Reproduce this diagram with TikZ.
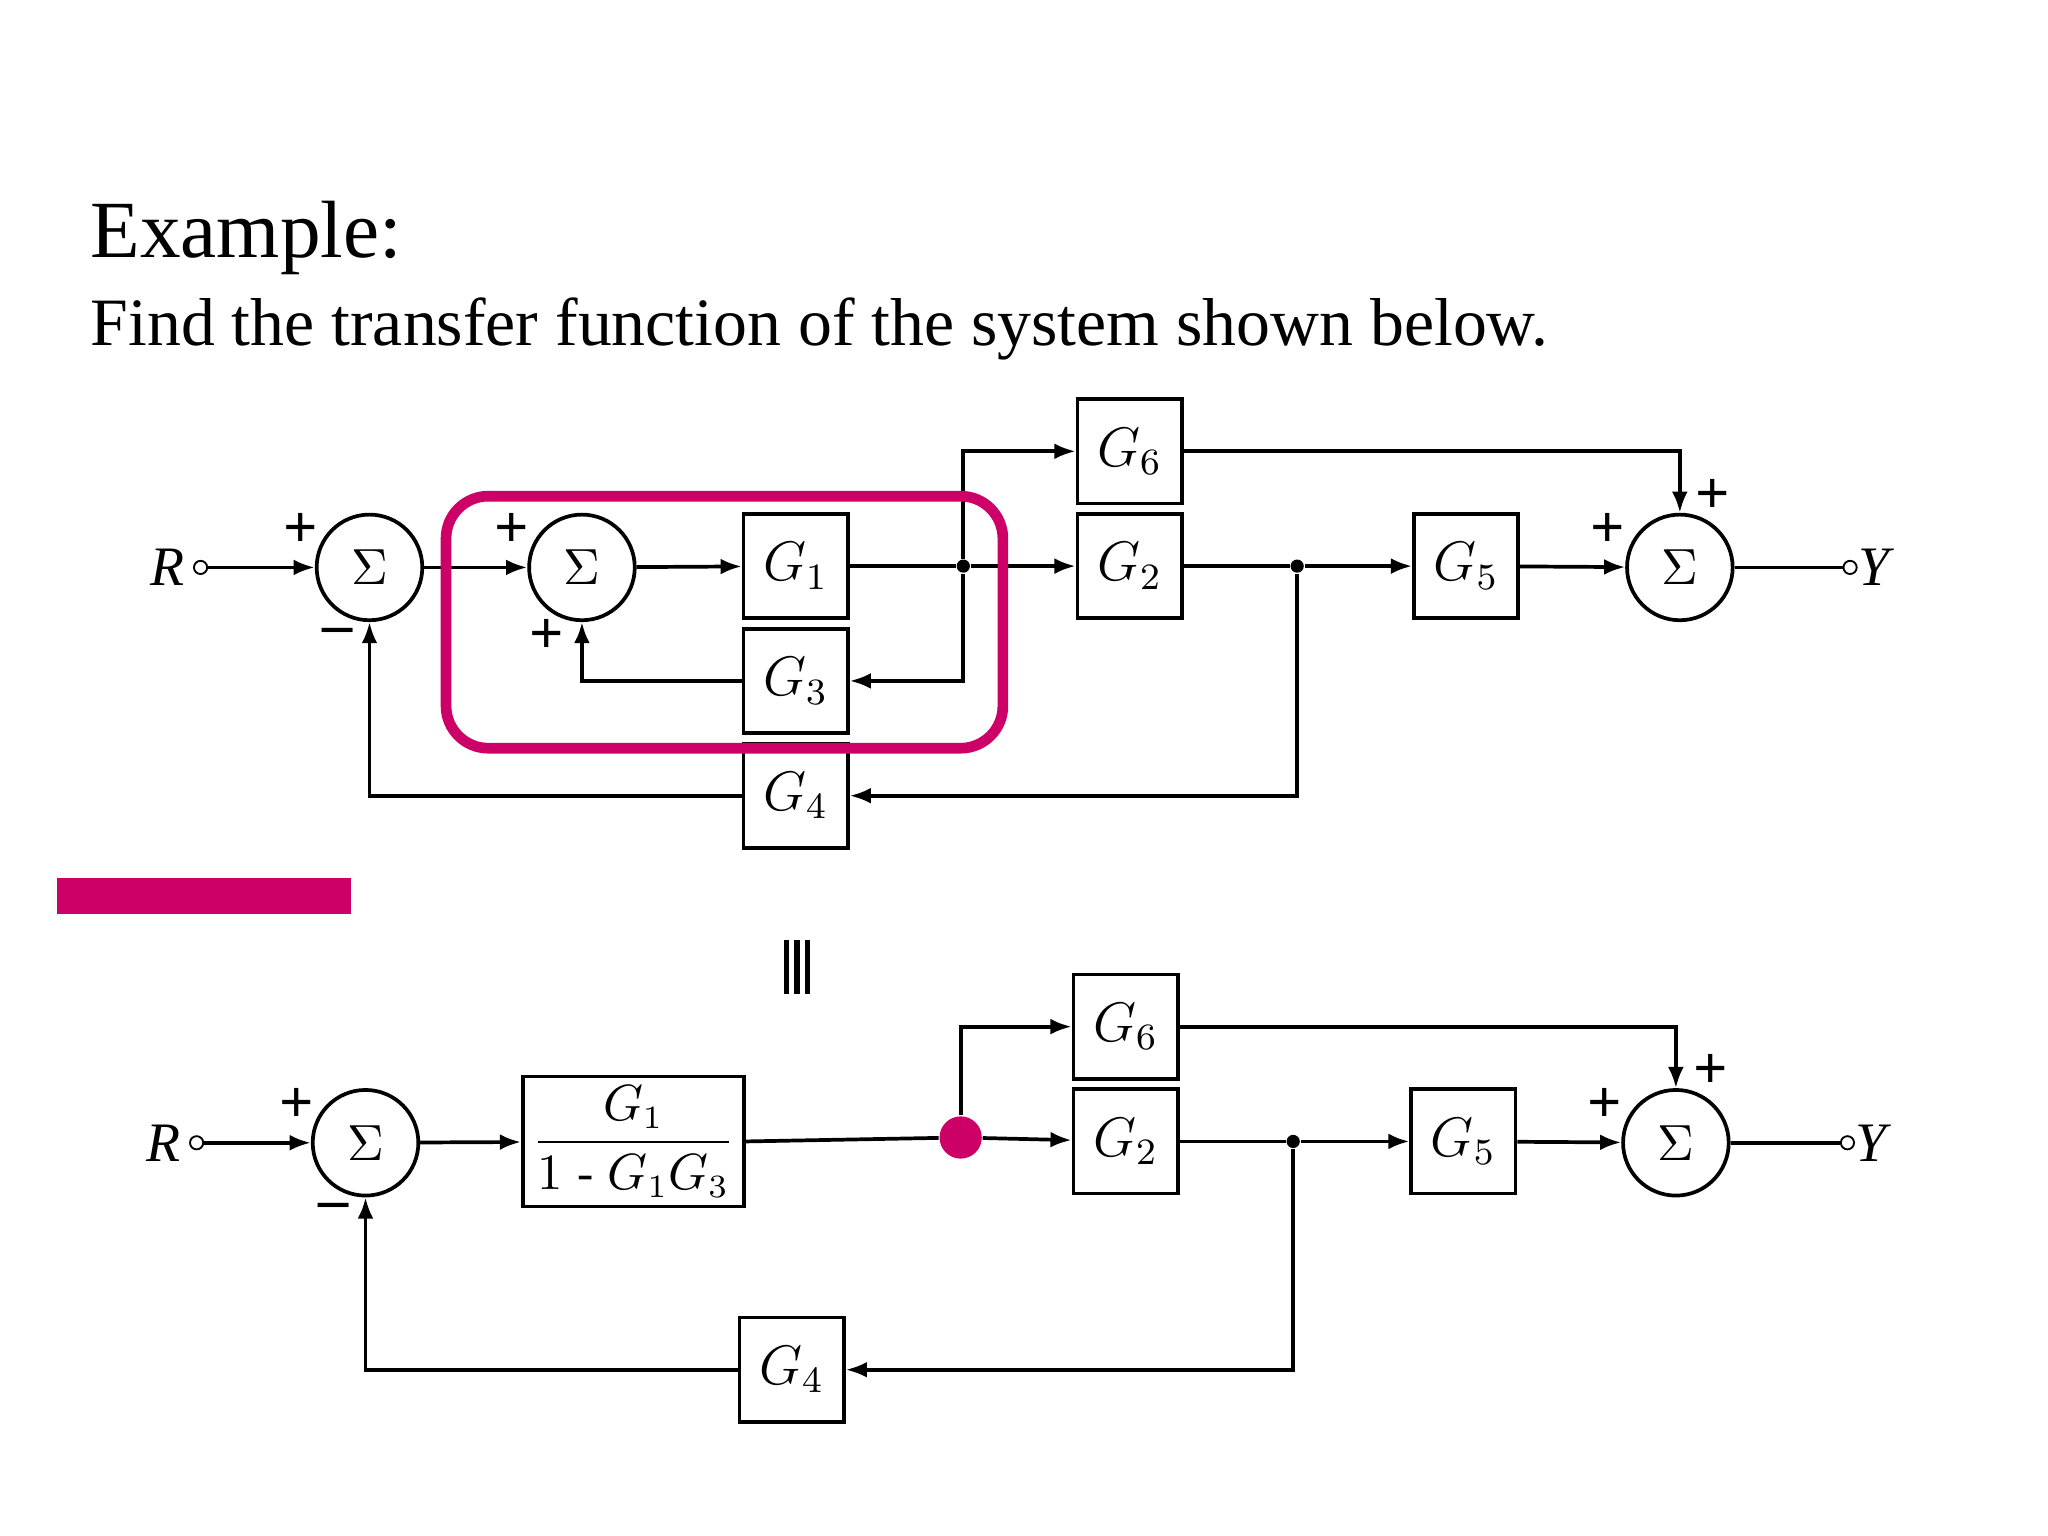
\documentclass[tikz,border=0pt]{standalone}
\usepackage{amsmath}
\usepackage{fontspec}
\setmainfont{Liberation Serif}
\usetikzlibrary{arrows.meta}
\definecolor{mag}{HTML}{CC0066}
\begin{document}
\begin{tikzpicture}[x=0.01cm,y=-0.01cm,
  blk/.style={draw,thick,minimum width=0.79cm,minimum height=0.79cm,inner sep=0pt,font=\fontsize{12}{14}\selectfont},
  sum/.style={draw,thick,circle,minimum size=0.8cm,inner sep=0pt,font=\fontsize{11}{13}\selectfont},
  term/.style={draw,circle,minimum size=0.1cm,inner sep=0pt},
  sg/.style={font=\bfseries\fontsize{13}{15}\selectfont},
  ar/.style={thick,-{Latex[length=1.6mm,width=1.2mm]}},
  ln/.style={thick},
  dot/.style={circle,fill,minimum size=0.1cm,inner sep=0pt}]
\useasboundingbox (0,0) rectangle (1552,1164);
\node[anchor=base west,font=\fontsize{17.5}{20}\selectfont,inner sep=0pt] (t1) at (68,195) {Example:};
\node[anchor=base west,font=\fontsize{14.6}{17}\selectfont,inner sep=0pt] (t2) at (68,262) {Find the transfer function of the system shown below.};
% ---- top diagram
\node[font=\itshape\fontsize{12}{14}\selectfont] (R1) at (127,430) {R};
\node[term] (r1) at (152,430) {};
\node[sum] (s1) at (280,430) {$\Sigma$};
\node[sum] (s2) at (441,430) {$\Sigma$};
\node[blk] (g1) at (603,429) {$G_1$};
\node[dot] (j1) at (730,429) {};
\node[blk] (g2) at (856,429) {$G_2$};
\node[blk] (g6) at (856,342) {$G_6$};
\node[blk] (g3) at (603,516) {$G_3$};
\node[dot] (j2) at (983,429) {};
\node[blk] (g5) at (1111,429) {$G_5$};
\node[sum] (s3) at (1273,430) {$\Sigma$};
\node[term] (y1) at (1402,430) {};
\node[font=\itshape\fontsize{12}{14}\selectfont] (Y1) at (1420,430) {Y};
\node[blk] (g4) at (603,603) {$G_4$};
\node[sg] at (228,402) {+};
\node[sg] at (256,482) {--};
\node[sg] at (388,402) {+};
\node[sg] at (414,482) {+};
\node[sg] at (1218,402) {+};
\node[sg] at (1298,376) {+};
\draw[ar] (r1) -- (s1);
\draw[ar] (s1) -- (s2);
\draw[ar] (s2) -- (g1);
\draw[ln] (g1) -- (j1);
\draw[ar] (j1) -- (g2);
\draw[ar] (j1) |- (g6);
\draw[ar] (j1) |- (g3);
\draw[ar] (g3) -| (s2);
\draw[ln] (g2) -- (j2);
\draw[ar] (j2) -- (g5);
\draw[ar] (g5) -- (s3);
\draw[ln] (s3) -- (y1);
\draw[ar] (g6) -| (s3);
\draw[ar] (j2) |- (g4);
\draw[ar] (g4) -| (s1);
\draw[mag,line width=2.3pt,rounded corners=0.32cm] (338,376) rectangle (760,567);
\fill[mag] (43,665) rectangle (266,693);
\draw[line width=1.2pt] (596,712) -- (596,753) (604,712) -- (604,753) (612,712) -- (612,753);
% ---- bottom diagram
\node[font=\itshape\fontsize{12}{14}\selectfont] (R2) at (124,866) {R};
\node[term] (r2) at (149,866) {};
\node[sum] (t1s) at (277,866) {$\Sigma$};
\node[blk,minimum width=1.6cm,minimum height=0.86cm,inner sep=2pt,font=\fontsize{10.5}{12}\selectfont] (gc) at (480,865) {$\dfrac{G_1}{1\;\text{-}\;G_1G_3}$};
\node[circle,fill=mag,minimum size=0.32cm,inner sep=0pt] (md) at (728,862) {};
\node[blk] (h2) at (853,865) {$G_2$};
\node[blk] (h6) at (853,778) {$G_6$};
\node[dot] (k2) at (980,865) {};
\node[blk] (h5) at (1109,865) {$G_5$};
\node[sum] (t3s) at (1270,866) {$\Sigma$};
\node[term] (y2) at (1400,866) {};
\node[font=\itshape\fontsize{12}{14}\selectfont] (Y2) at (1418,866) {Y};
\node[blk] (h4) at (600,1038) {$G_4$};
\node[sg] at (225,838) {+};
\node[sg] at (253,918) {--};
\node[sg] at (1216,838) {+};
\node[sg] at (1296,812) {+};
\draw[ar] (r2) -- (t1s);
\draw[ar] (t1s) -- (gc);
\draw[ln] (gc.east) -- (md);
\draw[ar] (md) -- (h2);
\draw[ar] (md) |- (h6);
\draw[ln] (h2) -- (k2);
\draw[ar] (k2) -- (h5);
\draw[ar] (h5) -- (t3s);
\draw[ln] (t3s) -- (y2);
\draw[ar] (h6) -| (t3s);
\draw[ar] (k2) |- (h4);
\draw[ar] (h4) -| (t1s);
\end{tikzpicture}
\end{document}
